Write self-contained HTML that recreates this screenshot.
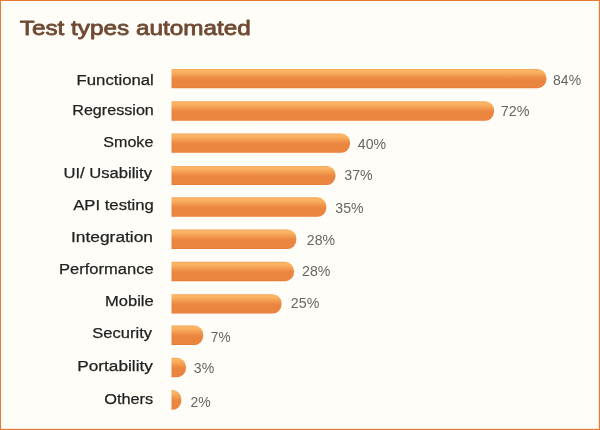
<!DOCTYPE html>
<html><head><meta charset="utf-8"><title>Test types automated</title>
<style>
html,body{margin:0;padding:0;background:#fefdf8;}
body{width:600px;height:430px;overflow:hidden;font-family:"Liberation Sans",sans-serif;}
svg{display:block}
.cat{font-size:15.5px;fill:#222;stroke:#222;stroke-width:0.25px;}
.pct{font-size:14px;fill:#666;}
.title{font-size:20.8px;font-weight:normal;fill:#6f4a33;stroke:#6f4a33;stroke-width:0.8px;stroke-linejoin:round;}
</style></head><body>
<svg width="600" height="430" viewBox="0 0 600 430" font-family="Liberation Sans, sans-serif">
<defs>
<linearGradient id="g" x1="0" y1="0" x2="0" y2="1">
<stop offset="0" stop-color="#f6a257"/>
<stop offset="0.09" stop-color="#fcb766"/>
<stop offset="0.2" stop-color="#f9ad5d"/>
<stop offset="0.5" stop-color="#eb8942"/>
<stop offset="0.6" stop-color="#ea853f"/>
<stop offset="0.93" stop-color="#ea843e"/>
<stop offset="1" stop-color="#e67a31"/>
</linearGradient>
</defs>
<rect x="0" y="0" width="600" height="430" fill="#fefdf8"/>
<rect x="0.5" y="0.5" width="599" height="429" fill="none" stroke="#e97a2f" stroke-width="1"/>
<rect x="598.85" y="0" width="1.15" height="430" fill="#e97a2f"/>
<rect x="0" y="428.85" width="600" height="1.15" fill="#e97a2f"/>
<text class="title" x="19.8" y="35.3" textLength="231" lengthAdjust="spacingAndGlyphs">Test types automated</text>

<path d="M171.5 68.90H537.50A8.9 8.9 0 0 1 546.40 77.80V79.30A8.9 8.9 0 0 1 537.50 88.20H171.5Z" fill="url(#g)"/>
<text class="cat" x="76.59" y="84.80" textLength="77.22" lengthAdjust="spacingAndGlyphs">Functional</text>
<text class="pct" x="553.10" y="84.70" textLength="28.00" lengthAdjust="spacingAndGlyphs">84%</text>
<path d="M171.5 101.20H485.10A8.9 8.9 0 0 1 494.00 110.10V111.90A8.9 8.9 0 0 1 485.10 120.80H171.5Z" fill="url(#g)"/>
<text class="cat" x="72.24" y="114.70" textLength="81.61" lengthAdjust="spacingAndGlyphs">Regression</text>
<text class="pct" x="500.80" y="115.70" textLength="28.70" lengthAdjust="spacingAndGlyphs">72%</text>
<path d="M171.5 133.50H341.10A8.9 8.9 0 0 1 350.00 142.40V143.90A8.9 8.9 0 0 1 341.10 152.80H171.5Z" fill="url(#g)"/>
<text class="cat" x="103.27" y="147.20" textLength="50.11" lengthAdjust="spacingAndGlyphs">Smoke</text>
<text class="pct" x="357.80" y="148.90" textLength="28.20" lengthAdjust="spacingAndGlyphs">40%</text>
<path d="M171.5 165.90H326.60A8.9 8.9 0 0 1 335.50 174.80V176.10A8.9 8.9 0 0 1 326.60 185.00H171.5Z" fill="url(#g)"/>
<text class="cat" x="63.44" y="178.20" textLength="88.53" lengthAdjust="spacingAndGlyphs">UI/ Usability</text>
<text class="pct" x="344.30" y="179.70" textLength="28.40" lengthAdjust="spacingAndGlyphs">37%</text>
<path d="M171.5 197.30H317.40A8.9 8.9 0 0 1 326.30 206.20V207.90A8.9 8.9 0 0 1 317.40 216.80H171.5Z" fill="url(#g)"/>
<text class="cat" x="73.21" y="210.40" textLength="80.70" lengthAdjust="spacingAndGlyphs">API testing</text>
<text class="pct" x="335.30" y="212.90" textLength="28.20" lengthAdjust="spacingAndGlyphs">35%</text>
<path d="M171.5 229.50H287.40A8.9 8.9 0 0 1 296.30 238.40V240.10A8.9 8.9 0 0 1 287.40 249.00H171.5Z" fill="url(#g)"/>
<text class="cat" x="71.00" y="242.10" textLength="82.01" lengthAdjust="spacingAndGlyphs">Integration</text>
<text class="pct" x="306.80" y="244.90" textLength="28.20" lengthAdjust="spacingAndGlyphs">28%</text>
<path d="M171.5 261.80H285.10A8.9 8.9 0 0 1 294.00 270.70V272.30A8.9 8.9 0 0 1 285.10 281.20H171.5Z" fill="url(#g)"/>
<text class="cat" x="59.01" y="274.10" textLength="94.66" lengthAdjust="spacingAndGlyphs">Performance</text>
<text class="pct" x="302.10" y="275.70" textLength="28.40" lengthAdjust="spacingAndGlyphs">28%</text>
<path d="M171.5 294.20H272.60A8.9 8.9 0 0 1 281.50 303.10V304.60A8.9 8.9 0 0 1 272.60 313.50H171.5Z" fill="url(#g)"/>
<text class="cat" x="105.02" y="305.60" textLength="48.67" lengthAdjust="spacingAndGlyphs">Mobile</text>
<text class="pct" x="290.80" y="307.90" textLength="28.50" lengthAdjust="spacingAndGlyphs">25%</text>
<path d="M171.5 325.50H194.30A8.9 8.9 0 0 1 203.20 334.40V336.10A8.9 8.9 0 0 1 194.30 345.00H171.5Z" fill="url(#g)"/>
<text class="cat" x="92.33" y="337.80" textLength="59.65" lengthAdjust="spacingAndGlyphs">Security</text>
<text class="pct" x="210.80" y="341.70" textLength="19.70" lengthAdjust="spacingAndGlyphs">7%</text>
<path d="M171.5 357.80H177.10A8.9 8.9 0 0 1 186.00 366.70V368.30A8.9 8.9 0 0 1 177.10 377.20H171.5Z" fill="url(#g)"/>
<text class="cat" x="77.31" y="371.00" textLength="75.60" lengthAdjust="spacingAndGlyphs">Portability</text>
<text class="pct" x="193.80" y="372.70" textLength="20.40" lengthAdjust="spacingAndGlyphs">3%</text>
<path d="M171.5 390.00H172.40A8.9 8.9 0 0 1 181.30 398.90V400.90A8.9 8.9 0 0 1 172.40 409.80H171.5Z" fill="url(#g)"/>
<text class="cat" x="104.21" y="403.60" textLength="49.03" lengthAdjust="spacingAndGlyphs">Others</text>
<text class="pct" x="190.50" y="406.70" textLength="20.20" lengthAdjust="spacingAndGlyphs">2%</text>
</svg></body></html>
